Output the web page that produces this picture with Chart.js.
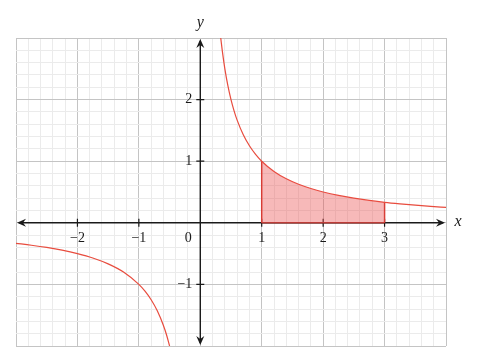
<!DOCTYPE html>
<html>
<head>
<meta charset="utf-8">
<script src="https://cdn.jsdelivr.net/npm/chart.js@4"></script>
<style>
    html, body { margin: 0; padding: 0; background: #fff; }
    #wrap { width: 483px; height: 363px; }
</style>
</head>
<body>
<div id="wrap"><canvas id="myChart" width="483" height="363"></canvas></div>
<script>
// y = 1/x
const posX = [0.333, 0.36, 0.4, 0.45, 0.5, 0.55, 0.6, 0.7, 0.8, 0.9, 1, 1.2, 1.4, 1.6, 1.8, 2, 2.25, 2.5, 2.75, 3, 3.25, 3.5, 3.75, 4];
const posY = [3, 2.778, 2.5, 2.222, 2, 1.818, 1.667, 1.429, 1.25, 1.111, 1, 0.833, 0.714, 0.625, 0.556, 0.5, 0.444, 0.4, 0.364, 0.333, 0.308, 0.286, 0.267, 0.25];
const negX = [-3, -2.75, -2.5, -2.25, -2, -1.75, -1.5, -1.25, -1, -0.9, -0.8, -0.7, -0.6, -0.55, -0.5];
const negY = [-0.333, -0.364, -0.4, -0.444, -0.5, -0.571, -0.667, -0.8, -1, -1.111, -1.25, -1.429, -1.667, -1.818, -2];

// shaded region under the curve, 1 <= x <= 3
const areaX = [1, 1.2, 1.4, 1.6, 1.8, 2, 2.25, 2.5, 2.75, 3];
const areaY = [1, 0.833, 0.714, 0.625, 0.556, 0.5, 0.444, 0.4, 0.364, 0.333];

const xTicks = [-2, -1, 1, 2, 3];
const xTickLabels = ['\u22122', '\u22121', '1', '2', '3'];
const yTicks = [2, 1, -1];
const yTickLabels = ['2', '1', '\u22121'];

const curveColor = 'rgb(232, 76, 62)';
const edgeColor = 'rgb(214, 60, 52)';
const labelFont = '14px "Liberation Serif", "DejaVu Serif", serif';

function toPoints(xs, ys) {
    return xs.map((v, i) => ({ x: v, y: ys[i] }));
}

function isMajor(v) {
    return Math.abs(v - Math.round(v)) < 1e-6;
}

function drawArrow(ctx, tx, ty, dx, dy) {
    const nx = -dy, ny = dx;
    ctx.beginPath();
    ctx.moveTo(tx, ty);
    ctx.lineTo(tx - 9 * dx + 4 * nx, ty - 9 * dy + 4 * ny);
    ctx.lineTo(tx - 6 * dx, ty - 6 * dy);
    ctx.lineTo(tx - 9 * dx - 4 * nx, ty - 9 * dy - 4 * ny);
    ctx.closePath();
    ctx.fill();
}

const axesPlugin = {
    id: 'axesPlugin',
    beforeDatasetsDraw(chart) {
        const { ctx, chartArea, scales } = chart;
        const x0 = scales.x.getPixelForValue(0);
        const y0 = scales.y.getPixelForValue(0);
        ctx.save();
        ctx.strokeStyle = '#1a1a1a';
        ctx.fillStyle = '#1a1a1a';
        ctx.lineWidth = 1.4;

        ctx.beginPath();
        ctx.moveTo(chartArea.left + 3, y0);
        ctx.lineTo(chartArea.right - 3, y0);
        ctx.moveTo(x0, chartArea.top + 3);
        ctx.lineTo(x0, chartArea.bottom - 3);
        ctx.stroke();

        drawArrow(ctx, chartArea.right - 1, y0, 1, 0);
        drawArrow(ctx, chartArea.left + 1, y0, -1, 0);
        drawArrow(ctx, x0, chartArea.top + 1, 0, -1);
        drawArrow(ctx, x0, chartArea.bottom - 1, 0, 1);

        ctx.lineWidth = 1.2;
        ctx.beginPath();
        xTicks.forEach(v => {
            const px = scales.x.getPixelForValue(v);
            ctx.moveTo(px, y0 - 4);
            ctx.lineTo(px, y0 + 4);
        });
        yTicks.forEach(v => {
            const py = scales.y.getPixelForValue(v);
            ctx.moveTo(x0 - 4, py);
            ctx.lineTo(x0 + 4, py);
        });
        ctx.stroke();
        ctx.restore();
    },
    afterDraw(chart) {
        const { ctx, scales } = chart;
        const x0 = scales.x.getPixelForValue(0);
        const y0 = scales.y.getPixelForValue(0);
        ctx.save();
        ctx.fillStyle = '#1a1a1a';
        ctx.font = labelFont;
        ctx.textBaseline = 'middle';

        ctx.textAlign = 'center';
        xTicks.forEach((v, i) => {
            ctx.fillText(xTickLabels[i], scales.x.getPixelForValue(v), y0 + 16);
        });
        ctx.fillText('0', x0 - 12, y0 + 16);

        ctx.textAlign = 'right';
        yTicks.forEach((v, i) => {
            ctx.fillText(yTickLabels[i], x0 - 8, scales.y.getPixelForValue(v));
        });

        ctx.font = 'italic 16px "Liberation Serif", "DejaVu Serif", serif';
        ctx.textAlign = 'center';
        ctx.fillText('x', chart.chartArea.right + 12, y0 - 1);
        ctx.fillText('y', x0, chart.chartArea.top - 15);
        ctx.restore();
    }
};

function buildGraphic() {
    const ctx = document.getElementById('myChart').getContext('2d');

    const gridOptions = {
        drawTicks: false,
        color: c => isMajor(c.tick.value) ? '#c4c4c4' : '#ebebeb',
        lineWidth: 1
    };

    const data = {
        datasets: [
            {
                data: toPoints(areaX, areaY),
                borderWidth: 0,
                backgroundColor: 'rgba(235, 80, 80, 0.4)',
                fill: 'origin',
                pointRadius: 0,
                cubicInterpolationMode: 'monotone'
            },
            {
                data: toPoints(posX, posY),
                borderColor: curveColor,
                borderWidth: 1.2,
                fill: false,
                pointRadius: 0,
                cubicInterpolationMode: 'monotone'
            },
            {
                data: toPoints(negX, negY),
                borderColor: curveColor,
                borderWidth: 1.2,
                fill: false,
                pointRadius: 0,
                cubicInterpolationMode: 'monotone'
            },
            {
                data: [{ x: areaX[0], y: 0 }, { x: areaX[0], y: areaY[0] }],
                borderColor: edgeColor,
                borderWidth: 1.5,
                fill: false,
                pointRadius: 0
            },
            {
                data: [{ x: areaX[areaX.length - 1], y: 0 }, { x: areaX[areaX.length - 1], y: areaY[areaY.length - 1] }],
                borderColor: edgeColor,
                borderWidth: 1.5,
                fill: false,
                pointRadius: 0
            },
            {
                data: [{ x: areaX[0], y: 0 }, { x: areaX[areaX.length - 1], y: 0 }],
                borderColor: 'rgb(170, 50, 45)',
                borderWidth: 1.5,
                fill: false,
                pointRadius: 0
            }
        ]
    };

    const config = {
        type: 'scatter',
        data: data,
        options: {
            responsive: false,
            devicePixelRatio: 1,
            animation: false,
            showLine: true,
            layout: {
                padding: { left: 16, right: 37, top: 38, bottom: 17 }
            },
            plugins: {
                legend: { display: false },
                tooltip: { enabled: false }
            },
            scales: {
                x: {
                    type: 'linear',
                    min: -3,
                    max: 4,
                    ticks: { display: false, stepSize: 0.2, maxTicksLimit: 100 },
                    grid: gridOptions,
                    border: { display: false }
                },
                y: {
                    type: 'linear',
                    min: -2,
                    max: 3,
                    ticks: { display: false, stepSize: 0.2, maxTicksLimit: 100 },
                    grid: gridOptions,
                    border: { display: false }
                }
            }
        },
        plugins: [axesPlugin]
    };

    const myChart = new Chart(ctx, config);
}

buildGraphic();
</script>
</body>
</html>
